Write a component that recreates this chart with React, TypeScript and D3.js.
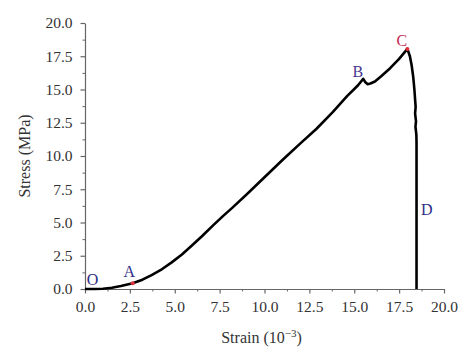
import React, { useRef, useEffect } from "react";
import * as d3 from "d3";

// strain (10^-3) and stress (MPa)
const strain = [0, 0.5, 1.0, 1.5, 2.0, 2.66, 3.2, 3.71, 4.3, 4.83, 5.4, 5.94, 6.5, 7.15, 7.7, 8.2, 9.0, 10.0, 11.0, 12.0, 12.9, 13.8, 14.6, 15.2, 15.5, 15.62, 15.75, 15.9, 16.15, 16.5, 17.0, 17.5, 17.96, 18.1, 18.2, 18.29, 18.35, 18.42, 18.39, 18.44, 18.41, 18.46, 18.47, 18.47];
const stress = [0, 0, 0.02, 0.1, 0.22, 0.43, 0.7, 1.05, 1.5, 2.0, 2.6, 3.25, 3.95, 4.8, 5.5, 6.1, 7.1, 8.4, 9.7, 10.95, 12.05, 13.3, 14.5, 15.3, 15.8, 15.55, 15.4, 15.45, 15.6, 16.0, 16.6, 17.3, 18.05, 17.5, 16.8, 15.9, 15.0, 13.7, 13.2, 12.6, 12.2, 11.6, 11.0, 0];

const xTicks = [0, 2.5, 5, 7.5, 10, 12.5, 15, 17.5, 20];
const yTicks = [0, 2.5, 5, 7.5, 10, 12.5, 15, 17.5, 20];

// special points O, A, B, C, D
const markNames = ["O", "A", "B", "C", "D"];
const markX = [0.1, 2.15, 14.9, 17.35, 18.72];
const markY = [0.3, 0.9, 15.96, 18.27, 5.56];
const markColor = ["#2b2c86", "#2b2c86", "#4a3690", "#c42a57", "#2b2c86"];
const dotX = [2.66, 17.96];
const dotY = [0.43, 18.05];

const App: React.FC = () => {
  const svgRef = useRef<SVGSVGElement | null>(null);

  useEffect(() => {
    const width = 474;
    const height = 364;
    const left = 85, right = 444, top = 23, bottom = 289;

    const svg = d3.select(svgRef.current);
    svg.selectAll("*").remove();

    const x = d3.scaleLinear().domain([0, 20]).range([left, right]);
    const y = d3.scaleLinear().domain([0, 20]).range([bottom, top]);

    const font = "'Liberation Serif', 'Times New Roman', serif";

    // minor ticks
    const minor = d3.range(1.25, 20, 2.5);
    const gxMinor = svg.append("g")
      .attr("transform", `translate(0,${bottom})`)
      .call(d3.axisBottom(x).tickValues(minor).tickSize(2.5).tickFormat(() => ""));
    const gyMinor = svg.append("g")
      .attr("transform", `translate(${left},0)`)
      .call(d3.axisLeft(y).tickValues(minor).tickSize(2.5).tickFormat(() => ""));
    [gxMinor, gyMinor].forEach(g => {
      g.select(".domain").remove();
      g.selectAll("line").attr("stroke", "#666");
    });

    const gx = svg.append("g")
      .attr("transform", `translate(0,${bottom})`)
      .call(d3.axisBottom(x).tickValues(xTicks).tickSize(4.5).tickPadding(7).tickSizeOuter(0).tickFormat(d3.format(".1f")));
    const gy = svg.append("g")
      .attr("transform", `translate(${left},0)`)
      .call(d3.axisLeft(y).tickValues(yTicks).tickSize(4.5).tickPadding(8).tickSizeOuter(0).tickFormat(d3.format(".1f")));
    [gx, gy].forEach(g => {
      g.select(".domain").attr("stroke", "#666").attr("stroke-width", 1.2);
      g.selectAll("line").attr("stroke", "#666").attr("stroke-width", 1.2);
      g.selectAll("text")
        .attr("fill", "#333")
        .style("font-family", font)
        .style("font-size", "15.5px");
    });

    // curve
    const pts = strain.map((s, i) => [s, stress[i]] as [number, number]);
    const line = d3.line<[number, number]>()
      .x(d => x(d[0]))
      .y(d => y(d[1]));
    svg.append("path")
      .datum(pts)
      .attr("d", line)
      .attr("fill", "none")
      .attr("stroke", "#000")
      .attr("stroke-width", 2.6)
      .attr("stroke-linejoin", "round");

    // red dots
    svg.selectAll("circle.dot")
      .data(dotX)
      .join("circle")
      .attr("class", "dot")
      .attr("cx", d => x(d))
      .attr("cy", (d, i) => y(dotY[i]))
      .attr("r", 2)
      .attr("fill", "#e0303a");

    // point labels
    svg.selectAll("text.mark")
      .data(markNames)
      .join("text")
      .attr("class", "mark")
      .attr("x", (d, i) => x(markX[i]))
      .attr("y", (d, i) => y(markY[i]))
      .attr("fill", (d, i) => markColor[i])
      .style("font-family", font)
      .style("font-size", "16px")
      .text(d => d);

    // axis titles
    svg.append("text")
      .attr("transform", `translate(30,${(top + bottom) / 2}) rotate(-90)`)
      .attr("text-anchor", "middle")
      .attr("fill", "#333")
      .style("font-family", font)
      .style("font-size", "16px")
      .text("Stress (MPa)");

    const xt = svg.append("text")
      .attr("x", (left + right) / 2 - 3)
      .attr("y", 343)
      .attr("text-anchor", "middle")
      .attr("fill", "#333")
      .style("font-family", font)
      .style("font-size", "16px");
    xt.append("tspan").text("Strain (10");
    xt.append("tspan").attr("dy", -6).style("font-size", "11px").text("\u22123");
    xt.append("tspan").attr("dy", 6).text(")");

    svg.attr("width", width).attr("height", height);
  }, []);

  return (
    <svg
      ref={svgRef}
      width={474}
      height={364}
      style={{ position: "absolute", left: 0, top: 0, background: "#fff" }}
    />
  );
};

export default App;
